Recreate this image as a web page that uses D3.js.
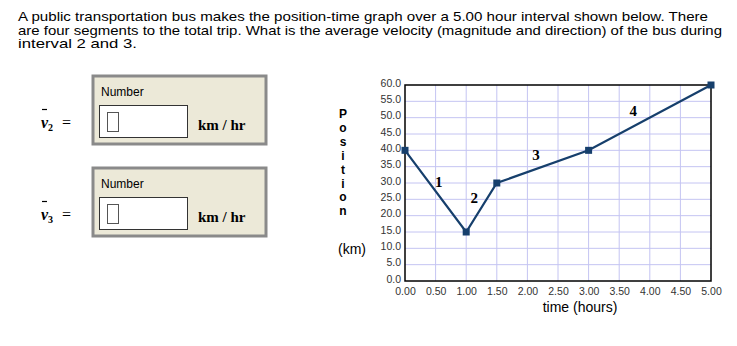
<!DOCTYPE html>
<html>
<head>
<meta charset="utf-8">
<script src="https://cdn.jsdelivr.net/npm/d3@7"></script>
<style>
body { margin: 0; background: #fff; }
svg { display: block; }
</style>
</head>
<body>
<svg width="737" height="346"></svg>
<script>
// question text, one entry per line
var questionLines = [
    "A public transportation bus makes the position-time graph over a 5.00 hour interval shown below. There",
    "are four segments to the total trip. What is the average velocity (magnitude and direction) of the bus during",
    "interval 2 and 3."
];
var lineWidths = [690, 704, 119];

// answer boxes
var answerSubs = ["2", "3"];

// chart data
var times = [0, 1, 1.5, 3, 5];
var positions = [40, 15, 30, 40, 60];
var xTicks = [0, 0.5, 1, 1.5, 2, 2.5, 3, 3.5, 4, 4.5, 5];
var yTicks = [0, 5, 10, 15, 20, 25, 30, 35, 40, 45, 50, 55, 60];
var segNames = ["1", "2", "3", "4"];
var segTimes = [0.55, 1.13, 2.14, 3.73];
var segPos = [30.3, 25.4, 38.6, 52.0];
var yTitle = "Position";

var svg = d3.select("svg");

// question
svg.selectAll(".q").data(questionLines).enter().append("text")
    .attr("class", "q")
    .attr("x", 18)
    .attr("y", function(d, i) { return 21 + i * 13.5; })
    .attr("textLength", function(d, i) { return lineWidths[i]; })
    .attr("lengthAdjust", "spacingAndGlyphs")
    .style("font-family", "Arial, 'Liberation Sans', sans-serif")
    .style("font-size", "13.5px")
    .style("fill", "#000")
    .text(function(d) { return d; });

// answer panels
var panels = svg.selectAll(".panel").data(answerSubs).enter().append("g")
    .attr("class", "panel")
    .attr("transform", function(d, i) { return "translate(0," + (i * 92) + ")"; });

panels.append("rect")
    .attr("x", 93).attr("y", 76).attr("width", 173).attr("height", 68)
    .style("fill", "#ece9d8")
    .style("stroke", "#8a8a8a")
    .style("stroke-width", 3);

panels.append("text")
    .attr("x", 101).attr("y", 96)
    .style("font-family", "Arial, 'Liberation Sans', sans-serif")
    .style("font-size", "12px")
    .text("Number");

panels.append("rect")
    .attr("x", 99.5).attr("y", 105.5).attr("width", 88).attr("height", 32)
    .style("fill", "#fff")
    .style("stroke", "#333")
    .style("stroke-width", 1);

panels.append("rect")
    .attr("x", 107.5).attr("y", 112.5).attr("width", 11).attr("height", 19)
    .style("fill", "#fff")
    .style("stroke", "#555")
    .style("stroke-width", 1);

panels.append("text")
    .attr("x", 198).attr("y", 130)
    .style("font-family", "'Times New Roman', 'Liberation Serif', serif")
    .style("font-weight", "bold")
    .style("font-size", "15px")
    .text("km / hr");

// v-bar labels
panels.append("line")
    .attr("x1", 42).attr("x2", 47).attr("y1", 109.5).attr("y2", 109.5)
    .style("stroke", "#000").style("stroke-width", 1.2);

var vlab = panels.append("text")
    .attr("x", 41).attr("y", 128)
    .style("font-family", "'Times New Roman', 'Liberation Serif', serif")
    .style("font-weight", "bold")
    .style("font-size", "16px");
vlab.append("tspan").style("font-style", "italic").text("v");
vlab.append("tspan").attr("dy", 3).style("font-size", "10px").text(function(d) { return d; });
vlab.append("tspan").attr("x", 62).attr("dy", -3).style("font-weight", "normal").text("=");

// chart
var x = d3.scaleLinear().domain([0, 5]).range([405, 711]);
var y = d3.scaleLinear().domain([0, 60]).range([281, 85]);

var grid = svg.append("g");
grid.selectAll(".vg").data(xTicks.slice(1, -1)).enter().append("line")
    .attr("x1", function(d) { return x(d); }).attr("x2", function(d) { return x(d); })
    .attr("y1", y(60)).attr("y2", y(0))
    .style("stroke", "#c4c4f2").style("stroke-width", 1);
grid.selectAll(".hg").data(yTicks.slice(1, -1)).enter().append("line")
    .attr("x1", x(0)).attr("x2", x(5))
    .attr("y1", function(d) { return y(d); }).attr("y2", function(d) { return y(d); })
    .style("stroke", "#c4c4f2").style("stroke-width", 1);

svg.append("rect")
    .attr("x", x(0)).attr("y", y(60))
    .attr("width", x(5) - x(0)).attr("height", y(0) - y(60))
    .style("fill", "none").style("stroke", "#000").style("stroke-width", 1.5);

var xAxis = svg.append("g")
    .attr("transform", "translate(0," + y(0) + ")")
    .call(d3.axisBottom(x).tickValues(xTicks).tickSize(0).tickPadding(7).tickFormat(d3.format(".2f")));
xAxis.select(".domain").remove();
xAxis.selectAll("text")
    .style("font-family", "Arial, 'Liberation Sans', sans-serif")
    .style("font-size", "10.5px")
    .style("fill", "#333");

var yAxis = svg.append("g")
    .attr("transform", "translate(" + x(0) + ",0)")
    .call(d3.axisLeft(y).tickValues(yTicks).tickSize(0).tickPadding(4).tickFormat(d3.format(".1f")));
yAxis.select(".domain").remove();
yAxis.selectAll("text")
    .attr("dy", "0.1em")
    .style("font-family", "Arial, 'Liberation Sans', sans-serif")
    .style("font-size", "10.5px")
    .style("fill", "#333");

// position-time line
var pts = times.map(function(t, i) { return [t, positions[i]]; });
svg.append("path")
    .datum(pts)
    .attr("d", d3.line().x(function(d) { return x(d[0]); }).y(function(d) { return y(d[1]); }))
    .style("fill", "none")
    .style("stroke", "#163f6c")
    .style("stroke-width", 2.2);

svg.selectAll(".pt").data(pts).enter().append("rect")
    .attr("class", "pt")
    .attr("x", function(d) { return x(d[0]) - 3.5; })
    .attr("y", function(d) { return y(d[1]) - 3.5; })
    .attr("width", 7).attr("height", 7)
    .style("fill", "#163f6c");

svg.selectAll(".seg").data(segNames).enter().append("text")
    .attr("x", function(d, i) { return x(segTimes[i]); })
    .attr("y", function(d, i) { return y(segPos[i]) + 5; })
    .attr("text-anchor", "middle")
    .style("font-family", "'Times New Roman', 'Liberation Serif', serif")
    .style("font-weight", "bold")
    .style("font-size", "15px")
    .text(function(d) { return d; });

// axis titles, letters stacked
svg.selectAll(".yl").data(yTitle.split("")).enter().append("text")
    .attr("x", 343)
    .attr("y", function(d, i) { return 118 + i * 13.9; })
    .attr("text-anchor", "middle")
    .style("font-family", "Arial, 'Liberation Sans', sans-serif")
    .style("font-weight", "bold")
    .style("font-size", "12px")
    .text(function(d) { return d; });

svg.append("text")
    .attr("x", 352).attr("y", 254)
    .attr("text-anchor", "middle")
    .style("font-family", "Arial, 'Liberation Sans', sans-serif")
    .style("font-size", "14px")
    .text("(km)");

svg.append("text")
    .attr("x", 580).attr("y", 312)
    .attr("text-anchor", "middle")
    .style("font-family", "Arial, 'Liberation Sans', sans-serif")
    .style("font-size", "14px")
    .text("time (hours)");
</script>
</body>
</html>
